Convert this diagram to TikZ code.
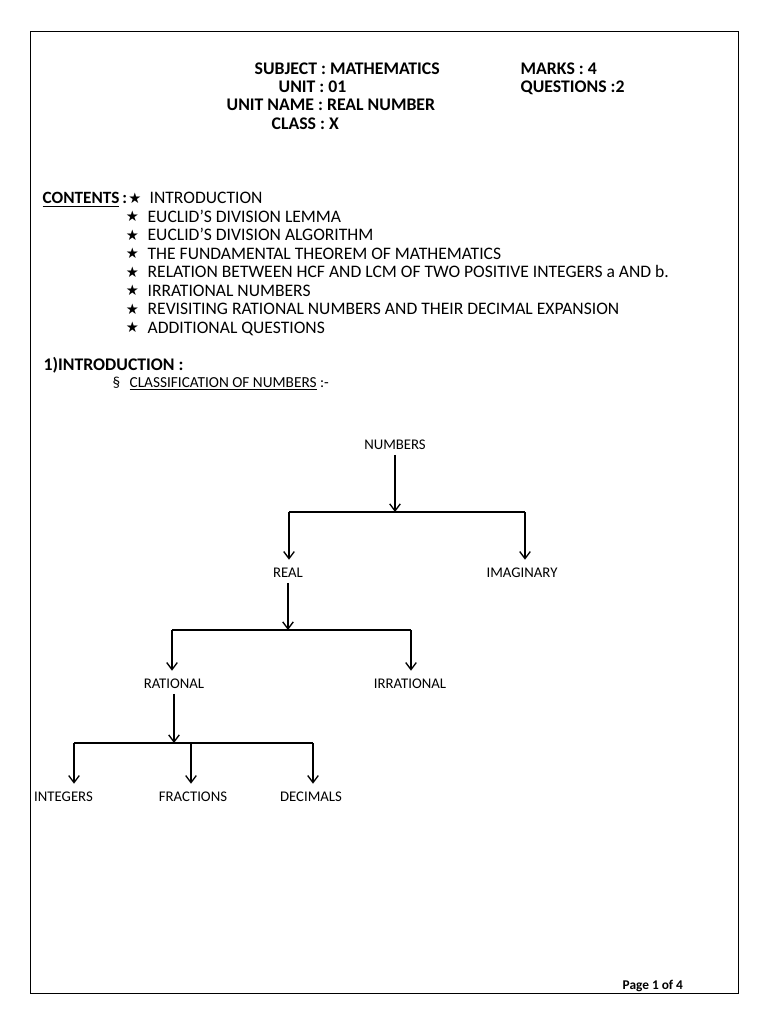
\documentclass[tikz,border=0pt]{standalone}
\usepackage{fontspec}
\setmainfont{Carlito}
\newfontfamily\symfont{DejaVu Sans}
\usetikzlibrary{arrows.meta}

\begin{document}
\begin{tikzpicture}[x=0.02cm,y=-0.02cm,line width=0.75pt,
    head/.style={font=\fontsize{10.1}{12}\selectfont\bfseries,anchor=base west,inner sep=0pt},
    item/.style={font=\fontsize{10}{12}\selectfont,anchor=base west,inner sep=0pt},
    bul/.style={font=\symfont\fontsize{8.3}{10}\selectfont,inner sep=0pt},
    leaf/.style={font=\fontsize{8.4}{10}\selectfont,inner xsep=1pt,inner ysep=2.5pt,text height=5.4pt,text depth=0pt},
    arr/.style={-{Straight Barb[length=4pt,width=6pt]}},
    drop/.style={arr,shorten >=2pt}]
  \useasboundingbox (0,0) rectangle (768,1024);
  % page frame
  \draw[line width=0.85pt] (30.5,31.5) rectangle (738.5,993.3);

  % header
  \node[head] (subj) at (254,74.5) {SUBJECT : MATHEMATICS};
  \node[head] (unit) at (278,92.5) {UNIT : 01};
  \node[head] (uname) at (226,110.5) {UNIT NAME : REAL NUMBER};
  \node[head] (class) at (271,129.5) {CLASS : X};
  \node[head] (marks) at (520,74.5) {MARKS : 4};
  \node[head] (ques) at (520,92.5) {QUESTIONS :2};

  % contents
  \node[head,font=\fontsize{9.8}{12}\selectfont\bfseries] (cont) at (42,203.5) {\underline{CONTENTS}\,:};
  \foreach \t [count=\i from 0] in {INTRODUCTION,EUCLID’S DIVISION LEMMA,EUCLID’S DIVISION ALGORITHM,THE FUNDAMENTAL THEOREM OF MATHEMATICS,RELATION BETWEEN HCF AND LCM OF TWO POSITIVE INTEGERS a AND b.,IRRATIONAL NUMBERS,REVISITING RATIONAL NUMBERS AND THEIR DECIMAL EXPANSION,ADDITIONAL QUESTIONS}{
    \node[bul] (s\i) at ({132.5+2.5*(\i==0)},198+\i*18.5) {★};
    \node[item] (c\i) at ({147+2*(\i==0)},203.5+\i*18.5) {\t};
  }

  % introduction
  \node[head] (intro) at (43,370.5) {1)INTRODUCTION :};
  \node[item,font=\fontsize{8.7}{10}\selectfont] (sect) at (112,387) {§};
  \node[item,font=\fontsize{8.7}{10}\selectfont] (clsf) at (129,387) {\underline{CLASSIFICATION OF NUMBERS} :-};

  % tree
  \node[leaf] (num) at (395,445) {NUMBERS};
  \node[leaf] (real) at (288,573) {REAL};
  \node[leaf] (imag) at (522,573) {IMAGINARY};
  \node[leaf] (rat) at (174,684) {RATIONAL};
  \node[leaf] (irr) at (410,684) {IRRATIONAL};
  \node[leaf] (integ) at (63.5,797) {INTEGERS};
  \node[leaf] (frac) at (193,797) {FRACTIONS};
  \node[leaf] (dec) at (311,797) {DECIMALS};

  \coordinate (b1l) at (289,512);
  \coordinate (b1r) at (525,512);
  \coordinate (b2l) at (172,630);
  \coordinate (b2r) at (411,630);
  \coordinate (b3l) at (74,743);
  \coordinate (b3m) at (191,743);
  \coordinate (b3r) at (313,743);

  \draw (b1l) -- (b1r);
  \draw (b2l) -- (b2r);
  \draw (b3l) -- (b3r);
  \draw[arr] (num) -- (num |- b1l);
  \draw[drop] (b1l) -- (b1l |- real.north);
  \draw[drop] (b1r) -- (b1r |- imag.north);
  \draw[arr] (real) -- (real |- b2l);
  \draw[drop] (b2l) -- (b2l |- rat.north);
  \draw[drop] (b2r) -- (b2r |- irr.north);
  \draw[arr] (rat) -- (rat |- b3l);
  \draw[drop] (b3l) -- (b3l |- integ.north);
  \draw[drop] (b3m) -- (b3m |- frac.north);
  \draw[drop] (b3r) -- (b3r |- dec.north);

  % footer
  \node[head,font=\fontsize{7.6}{9}\selectfont\bfseries] (page) at (622,989) {Page 1 of 4};
\end{tikzpicture}
\end{document}
